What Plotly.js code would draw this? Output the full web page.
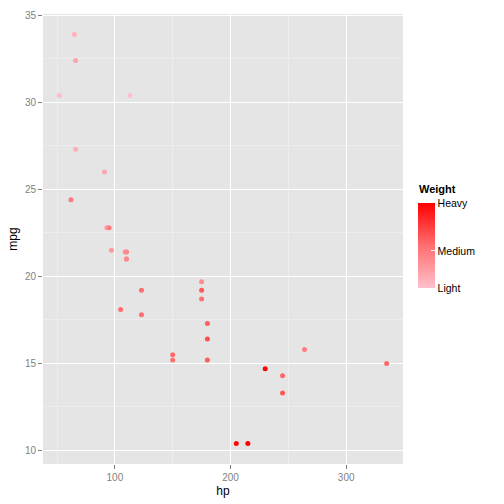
<!DOCTYPE html>
<html>
<head>
<meta charset="utf-8">
<script src="https://cdn.plot.ly/plotly-3.0.1.min.js"></script>
<style>html,body{margin:0;padding:0;background:#fff;}#chart{width:504px;height:504px;}</style>
</head>
<body>
<div id="chart"></div>
<script>
// mtcars: horsepower, miles per gallon, weight (1000 lbs)
var hp  = [110,110,93,110,175,105,245,62,95,123,123,180,180,180,205,215,230,66,52,65,97,150,150,245,175,66,91,113,264,175,335,109];
var mpg = [21.0,21.0,22.8,21.4,18.7,18.1,14.3,24.4,22.8,19.2,17.8,16.4,17.3,15.2,10.4,10.4,14.7,32.4,30.4,33.9,21.5,15.5,15.2,13.3,19.2,27.3,26.0,30.4,15.8,19.7,15.0,21.4];
var wt  = [2.620,2.875,2.320,3.215,3.440,3.460,3.570,3.190,3.150,3.440,3.440,4.070,3.730,3.780,5.250,5.424,5.345,2.200,1.615,1.835,2.465,3.520,3.435,3.840,3.845,1.935,2.140,1.513,3.170,2.770,3.570,2.780];
var legendLabels = ["Light","Medium","Heavy"];
var legendTitle = "Weight";

var wMin = Math.min.apply(null, wt), wMax = Math.max.apply(null, wt);
var wMean = wt.reduce(function(a,b){return a+b;},0)/wt.length;
var fam = 'Liberation Sans, Arial, sans-serif';

var trace = {
  x: hp, y: mpg, type: 'scatter', mode: 'markers',
  marker: {
    size: 5, color: wt, cmin: wMin, cmax: wMax,
    colorscale: [[0,'#FFC0CB'],[0.5,'#FF6E70'],[1,'#FF0000']],
    line: {width: 0},
    colorbar: {
      tickvals: [wMin, wMean, wMax], ticktext: legendLabels,
      tickfont: {family: fam, size: 10.5, color: '#000'},
      ticks: 'inside', ticklen: 4, tickcolor: '#fff', tickwidth: 1,
      thickness: 17, thicknessmode: 'pixels',
      len: 85, lenmode: 'pixels',
      x: 1.042, xanchor: 'left', y: 0.4856, yanchor: 'middle',
      xpad: 0, ypad: 0, outlinewidth: 0
    }
  },
  hoverinfo: 'x+y'
};

var axisFont = {family: fam, size: 10, color: '#7F7F7F'};
var layout = {
  width: 504, height: 504,
  margin: {l: 43, r: 101, t: 14, b: 40},
  paper_bgcolor: '#fff', plot_bgcolor: '#E5E5E5',
  showlegend: false,
  annotations: [{
    text: '<b>' + legendTitle + '</b>', xref: 'paper', yref: 'paper',
    x: 1.039, y: 0.593, xanchor: 'left', yanchor: 'bottom', showarrow: false,
    font: {family: fam, size: 11, color: '#000'}
  }],
  xaxis: {
    range: [37.85, 349.15], tickvals: [100,200,300], ticktext: ['100','200','300'],
    showgrid: true, gridcolor: '#fff', gridwidth: 1.1, zeroline: false,
    ticks: 'outside', ticklen: 4, tickcolor: '#7F7F7F', tickwidth: 1,
    tickfont: axisFont,
    minor: {tickvals: [50,150,250,350], showgrid: true, gridcolor: '#F2F2F2', gridwidth: 0.6, ticks: ''},
    title: {text: 'hp', font: {family: fam, size: 12, color: '#000'}, standoff: 4},
    showline: false
  },
  yaxis: {
    range: [9.225, 35.075], tickvals: [10,15,20,25,30,35],
    showgrid: true, gridcolor: '#fff', gridwidth: 1.1, zeroline: false,
    ticks: 'outside', ticklen: 4, tickcolor: '#7F7F7F', tickwidth: 1,
    tickfont: axisFont,
    minor: {tickvals: [12.5,17.5,22.5,27.5,32.5], showgrid: true, gridcolor: '#F2F2F2', gridwidth: 0.6, ticks: ''},
    title: {text: 'mpg', font: {family: fam, size: 12, color: '#000'}, standoff: 4},
    showline: false
  }
};

Plotly.newPlot('chart', [trace], layout, {displayModeBar: false, staticPlot: true});
</script>
</body>
</html>
